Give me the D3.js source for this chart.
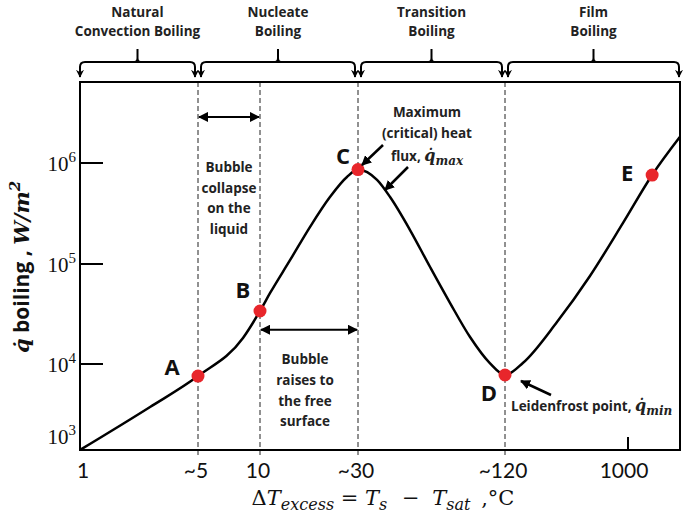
<!DOCTYPE html>
<html>
<head>
<meta charset="utf-8">
<script src="https://cdn.jsdelivr.net/npm/d3@7"></script>
<style>
html,body{margin:0;padding:0;background:#fff;}
svg{display:block;}
</style>
</head>
<body>
<svg id="chart" width="685" height="520"></svg>
<script>
// ---- data ----
const xTickValues = [1, 5, 10, 30, 120, 1000];
const xTickLabels = ["1", "~5", "10", "~30", "~120", "1000"];
const xDomainEnd = 2500;
const yTickValues = [1e3, 1e4, 1e5, 1e6];
const yTickExponents = ["3", "4", "5", "6"];
const yDomainEnd = 6.5e6;

const curveDeltaT = [1, 2.6, 5, 8.27, 10, 11.2, 14.0, 17.5, 21.9, 26.5, 30, 35.9, 40.6, 49.0, 59.2, 71.5, 86.3, 104, 120, 164, 294, 519, 918, 1530, 2500];
const curveFlux   = [1000, 3160, 7240, 18200, 33900, 51300, 109000, 232000, 460000, 727000, 860000, 679000, 460000, 217000, 93300, 40700, 18600, 10200, 7450, 10300, 26300, 75900, 255000, 760000, 1830000];

const pointNames   = ["A", "B", "C", "D", "E"];
const pointDeltaT  = [5, 10, 30, 120, 1530];
const pointFlux    = [7240, 33900, 860000, 7450, 760000];

const dashedAt = [5, 10, 30, 120];

const regionNames = [["Natural", "Convection Boiling"], ["Nucleate", "Boiling"], ["Transition", "Boiling"], ["Film", "Boiling"]];
const regionStart = [1, 5, 30, 120];
const regionEnd   = [5, 30, 120, 2500];

// ---- scales (schematic, piecewise logarithmic) ----
const x = d3.scaleLog()
  .domain([1, 5, 10, 30, 120, 1000, xDomainEnd])
  .range([80, 198, 260, 358, 505, 628, 680]);
const y = d3.scaleLog()
  .domain([1e3, 1e4, 1e5, 1e6, yDomainEnd])
  .range([450, 364, 264, 163, 82]);

const svg = d3.select("#chart");
const sans = "Lato, 'Open Sans', sans-serif";
const ann = "'Open Sans', Lato, sans-serif";
const serif = "'DejaVu Serif', 'Liberation Serif', serif";

const defs = svg.append("defs");
defs.append("marker").attr("id", "ah").attr("viewBox", "0 0 10 10")
  .attr("refX", 9).attr("refY", 5).attr("markerWidth", 10).attr("markerHeight", 10)
  .attr("markerUnits", "userSpaceOnUse").attr("orient", "auto-start-reverse")
  .append("path").attr("d", "M0,0 L10,5 L0,10 Z").attr("fill", "#000");
defs.append("marker").attr("id", "ahs").attr("viewBox", "0 0 10 10")
  .attr("refX", 9).attr("refY", 5).attr("markerWidth", 8).attr("markerHeight", 8)
  .attr("markerUnits", "userSpaceOnUse").attr("orient", "auto-start-reverse")
  .append("path").attr("d", "M0,0 L10,5 L0,10 L3,5 Z").attr("fill", "#000");

const X0 = x(1), X1 = x(xDomainEnd), Y0 = y(1e3), Y1 = y(yDomainEnd);

// dashed region lines
svg.append("g").selectAll("line").data(dashedAt).join("line")
  .attr("x1", d => x(d)).attr("x2", d => x(d))
  .attr("y1", Y1).attr("y2", Y0 + 6)
  .attr("stroke", "#222").attr("stroke-width", 1).attr("stroke-dasharray", "5,3");

// plot frame
svg.append("rect").attr("x", X0).attr("y", Y1).attr("width", X1 - X0).attr("height", Y0 - Y1)
  .attr("fill", "none").attr("stroke", "#000").attr("stroke-width", 2);

// y ticks (inward)
svg.append("g").selectAll("line").data(yTickValues.slice(1)).join("line")
  .attr("x1", X0).attr("x2", X0 + 23).attr("y1", d => y(d)).attr("y2", d => y(d))
  .attr("stroke", "#000").attr("stroke-width", 2);
const yl = svg.append("g").selectAll("text").data(yTickValues).join("text")
  .attr("x", X0 - 4).attr("y", d => Math.min(y(d) + 8, Y0 - 6))
  .attr("text-anchor", "end").attr("font-family", "'Liberation Serif', serif").attr("font-size", 21).attr("fill", "#111");
yl.append("tspan").text("10");
yl.append("tspan").attr("dy", -9).attr("font-size", 15).text((d, i) => yTickExponents[i]);

// x tick at 1000 (inward)
svg.append("line").attr("x1", x(1000)).attr("x2", x(1000)).attr("y1", Y0).attr("y2", Y0 - 13)
  .attr("stroke", "#000").attr("stroke-width", 2);
svg.append("g").selectAll("text").data(xTickValues).join("text")
  .attr("x", (d, i) => x(d) + (i === 0 ? 3 : i === 5 ? -4 : -2)).attr("y", Y0 + 28)
  .attr("text-anchor", "middle").attr("font-family", sans).attr("font-size", 21).attr("fill", "#111")
  .text((d, i) => xTickLabels[i]);

// axis titles
const xt = svg.append("text").attr("x", 383).attr("y", 505).attr("text-anchor", "middle")
  .attr("font-family", serif).attr("font-size", 21).attr("fill", "#111").attr("xml:space", "preserve");
xt.append("tspan").text("Δ");
xt.append("tspan").attr("font-style", "italic").text("T");
xt.append("tspan").attr("font-style", "italic").attr("font-size", 16).attr("dy", 5).text("excess");
xt.append("tspan").attr("dy", -5).text(" = ");
xt.append("tspan").attr("font-style", "italic").text("T");
xt.append("tspan").attr("font-style", "italic").attr("font-size", 16).attr("dy", 5).text("s");
xt.append("tspan").attr("dy", -5).attr("dx", 8).text(" − ");
xt.append("tspan").attr("dx", 6).attr("font-style", "italic").text("T");
xt.append("tspan").attr("font-style", "italic").attr("font-size", 16).attr("dy", 5).text("sat");
xt.append("tspan").attr("dy", -5).attr("dx", 4).text(" ,°C");

const ytl = svg.append("text").attr("transform", "translate(29,267) rotate(-90)").attr("text-anchor", "middle")
  .attr("font-size", 21).attr("font-weight", "bold").attr("fill", "#111");
ytl.append("tspan").attr("font-family", serif).attr("font-style", "italic").text("q\u0307");
ytl.append("tspan").attr("font-family", ann).text(" boiling , ");
ytl.append("tspan").attr("font-family", serif).attr("font-style", "italic").text("W/m");
ytl.append("tspan").attr("font-family", serif).attr("font-style", "italic").attr("font-size", 15).attr("dy", -9).text("2");

// boiling curve
const pts = curveDeltaT.map((d, i) => [x(d), y(curveFlux[i])]);
svg.append("path").attr("d", d3.line().curve(d3.curveMonotoneX)(pts))
  .attr("fill", "none").attr("stroke", "#000").attr("stroke-width", 2.5);

// points
const labelOff = [[-26, -9], [-17, -21], [-15, -14], [-16, 18], [-25, -2]];
svg.append("g").selectAll("circle").data(pointNames).join("circle")
  .attr("cx", (d, i) => x(pointDeltaT[i])).attr("cy", (d, i) => y(pointFlux[i])).attr("r", 6.5)
  .attr("fill", "#e8262b");
svg.append("g").selectAll("text").data(pointNames).join("text")
  .attr("x", (d, i) => x(pointDeltaT[i]) + labelOff[i][0]).attr("y", (d, i) => y(pointFlux[i]) + labelOff[i][1] + 8)
  .attr("text-anchor", "middle").attr("font-family", ann).attr("font-weight", "bold").attr("font-size", 22).attr("fill", "#111")
  .text(d => d);

// region braces
const br = svg.append("g");
regionNames.forEach((nm, i) => {
  const a = x(regionStart[i]) + (i === 0 ? 0 : 3);
  const b = x(regionEnd[i]) - (i === 3 ? 1 : 3);
  const c = (a + b) / 2;
  const yb = 62, ya = 77;
  br.append("path").attr("d", `M${a},${ya} V${yb + 5} Q${a},${yb} ${a + 5},${yb} H${b - 5} Q${b},${yb} ${b},${yb + 5} V${ya}`)
    .attr("fill", "none").attr("stroke", "#000").attr("stroke-width", 2)
    .attr("marker-start", "url(#ahs)").attr("marker-end", "url(#ahs)");
  br.append("path").attr("d", `M${c - 3},${yb} Q${c},${yb} ${c},${yb - 4} V${yb - 13} M${c + 3},${yb} Q${c},${yb} ${c},${yb - 4}`)
    .attr("fill", "none").attr("stroke", "#000").attr("stroke-width", 2);
  const t = br.append("text").attr("text-anchor", "middle").attr("font-family", ann)
    .attr("font-weight", "bold").attr("font-size", 13.5).attr("fill", "#222");
  t.append("tspan").attr("x", c).attr("y", 17).text(nm[0]);
  t.append("tspan").attr("x", c).attr("y", 36).text(nm[1]);
});

// double arrows
const dbl = [[5, 10, 2.9e6], [10, 30, 2.2e4]];
svg.append("g").selectAll("line").data(dbl).join("line")
  .attr("x1", d => x(d[0]) + 1).attr("x2", d => x(d[1]) - 1)
  .attr("y1", d => y(d[2])).attr("y2", d => y(d[2]))
  .attr("stroke", "#000").attr("stroke-width", 2)
  .attr("marker-start", "url(#ah)").attr("marker-end", "url(#ah)");

// annotation text blocks
function block(cx, y0, lines, dy) {
  const t = svg.append("text").attr("text-anchor", "middle").attr("font-family", ann)
    .attr("font-weight", "bold").attr("font-size", 13.5).attr("fill", "#222");
  lines.forEach((l, i) => t.append("tspan").attr("x", cx).attr("y", y0 + i * dy).text(l));
  return t;
}
block((x(5) + x(10)) / 2, 172, ["Bubble", "collapse", "on the", "liquid"], 20.5);
block((x(10) + x(30)) / 2 - 4, 364, ["Bubble", "raises to", "the free", "surface"], 20.8);
block(427, 117, ["Maximum", "(critical) heat"], 20.5);
const fl = svg.append("text").attr("x", 427).attr("y", 161).attr("text-anchor", "middle")
  .attr("font-weight", "bold").attr("font-size", 13.5).attr("fill", "#222");
fl.append("tspan").attr("font-family", ann).text("flux, ");
fl.append("tspan").attr("font-family", serif).attr("font-style", "italic").attr("font-size", 16).text("q\u0307");
fl.append("tspan").attr("font-family", serif).attr("font-style", "italic").attr("font-size", 12).attr("dy", 4).text("max");

const lf = svg.append("text").attr("x", 511).attr("y", 411)
  .attr("font-weight", "bold").attr("font-size", 13.5).attr("fill", "#222");
lf.append("tspan").attr("font-family", ann).text("Leidenfrost point, ");
lf.append("tspan").attr("font-family", serif).attr("font-style", "italic").attr("font-size", 16).text("q\u0307");
lf.append("tspan").attr("font-family", serif).attr("font-style", "italic").attr("font-size", 12).attr("dy", 4).text("min");

// pointer arrows
const ptr = [[383, 145, 362, 165], [408, 167, 385, 190], [551, 395, 521, 381]];
svg.append("g").selectAll("line").data(ptr).join("line")
  .attr("x1", d => d[0]).attr("y1", d => d[1]).attr("x2", d => d[2]).attr("y2", d => d[3])
  .attr("stroke", "#000").attr("stroke-width", 2.5).attr("marker-end", "url(#ah)");
</script>
</body>
</html>
